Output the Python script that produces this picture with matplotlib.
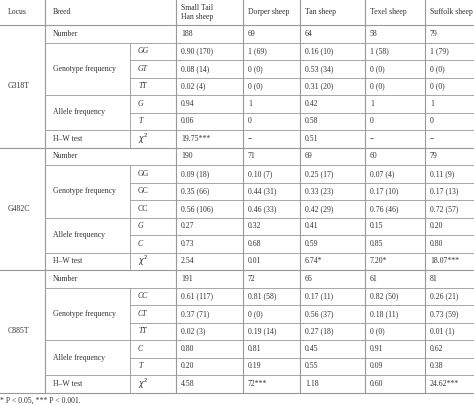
import matplotlib.pyplot as plt

breeds = ['Small Tail\nHan sheep', 'Dorper sheep', 'Tan sheep', 'Texel sheep', 'Suffolk sheep']
loci = ['G318T', 'G482C', 'C885T']
genotypes = [['GG', 'GT', 'TT'], ['GG', 'GC', 'CC'], ['CC', 'CT', 'TT']]
genotype_italic = [True, False, True]
alleles = [['G', 'T'], ['G', 'C'], ['C', 'T']]

numbers = [
    ['188', '69', '64', '58', '79'],
    ['190', '71', '69', '60', '79'],
    ['191', '72', '66', '61', '81'],
]
genotype_freq = [
    [['0.90 (170)', '1 (69)', '0.16 (10)', '1 (58)', '1 (79)'],
     ['0.08 (14)', '0 (0)', '0.53 (34)', '0 (0)', '0 (0)'],
     ['0.02 (4)', '0 (0)', '0.31 (20)', '0 (0)', '0 (0)']],
    [['0.09 (18)', '0.10 (7)', '0.25 (17)', '0.07 (4)', '0.11 (9)'],
     ['0.35 (66)', '0.44 (31)', '0.33 (23)', '0.17 (10)', '0.17 (13)'],
     ['0.56 (106)', '0.46 (33)', '0.42 (29)', '0.76 (46)', '0.72 (57)']],
    [['0.61 (117)', '0.81 (58)', '0.17 (11)', '0.82 (50)', '0.26 (21)'],
     ['0.37 (71)', '0 (0)', '0.56 (37)', '0.18 (11)', '0.73 (59)'],
     ['0.02 (3)', '0.19 (14)', '0.27 (18)', '0 (0)', '0.01 (1)']],
]
allele_freq = [
    [['0.94', '1', '0.42', '1', '1'], ['0.06', '0', '0.58', '0', '0']],
    [['0.27', '0.32', '0.41', '0.15', '0.20'], ['0.73', '0.68', '0.59', '0.85', '0.80']],
    [['0.80', '0.81', '0.45', '0.91', '0.62'], ['0.20', '0.19', '0.55', '0.09', '0.38']],
]
hw_test = [
    ['19.75***', '--', '0.51', '--', '--'],
    ['2.54', '0.01', '6.74*', '7.20*', '18.07***'],
    ['4.58', '72***', '1.18', '0.60', '24.62***'],
]
footnote = '* P < 0.05, *** P < 0.001.'

plt.rcParams['font.family'] = ['Liberation Serif', 'DejaVu Serif']
fig = plt.figure(figsize=(4.74, 4.05), dpi=100)
ax = fig.add_axes([0, 0, 1, 1])
ax.set_xlim(0, 474)
ax.set_ylim(405, 0)
ax.axis('off')

col_x = [0, 45, 130, 176, 243, 300, 365, 425, 474]
header_h = 25
row_h = 17.5
fs = 5.6
tc = '#333333'
lc = '#999999'

def txt(x, y, s, italic=False, ha='left'):
    ax.text(x, y, s, fontsize=fs, color=tc, va='center', ha=ha,
            style='italic' if italic else 'normal', linespacing=1.1)

# header
txt(8, header_h / 2, 'Locus')
txt(col_x[1] + 8, header_h / 2, 'Breed')
for j, b in enumerate(breeds):
    txt(col_x[3 + j] + 5, header_h / 2, b)
ax.plot([0, 474], [header_h, header_h], color=lc, lw=0.8)

y0 = header_h
for k, locus in enumerate(loci):
    rows = 7
    yb = y0 + rows * row_h
    txt(8, (y0 + yb) / 2, locus)
    # number row
    txt(col_x[1] + 8, y0 + row_h / 2, 'Number')
    for j in range(5):
        txt(col_x[3 + j] + 5, y0 + row_h / 2, numbers[k][j])
    # genotype rows
    txt(col_x[1] + 8, y0 + row_h * 2.5, 'Genotype frequency')
    for i in range(3):
        yc = y0 + row_h * (1.5 + i)
        txt(col_x[2] + 8, yc, genotypes[k][i], italic=genotype_italic[k])
        for j in range(5):
            txt(col_x[3 + j] + 5, yc, genotype_freq[k][i][j])
    # allele rows
    txt(col_x[1] + 8, y0 + row_h * 5, 'Allele frequency')
    for i in range(2):
        yc = y0 + row_h * (4.5 + i)
        txt(col_x[2] + 8, yc, alleles[k][i], italic=True)
        for j in range(5):
            txt(col_x[3 + j] + 5, yc, allele_freq[k][i][j])
    # H-W row
    yc = y0 + row_h * 6.5
    txt(col_x[1] + 8, yc, 'H–W test')
    txt(col_x[2] + 8, yc, r'$\chi^2$')
    for j in range(5):
        txt(col_x[3 + j] + 5, yc, hw_test[k][j])

    # horizontal lines
    for r in [1, 4, 6]:
        ax.plot([col_x[1], 474], [y0 + r * row_h] * 2, color=lc, lw=0.6)
    for r in [2, 3, 5]:
        ax.plot([col_x[2], 474], [y0 + r * row_h] * 2, color=lc, lw=0.6)
    ax.plot([0, 474], [yb, yb], color=lc, lw=0.8)
    # vertical line for sub column only within genotype/allele/HW rows
    ax.plot([col_x[2], col_x[2]], [y0 + row_h, yb], color=lc, lw=0.6)
    y0 = yb

for x in [col_x[1]] + col_x[3:8]:
    ax.plot([x, x], [0, y0], color=lc, lw=0.8)
ax.plot([col_x[2], col_x[2]], [0, header_h], color=lc, lw=0)

txt(0, y0 + 8, footnote)

fig.savefig('out.png', dpi=100)
